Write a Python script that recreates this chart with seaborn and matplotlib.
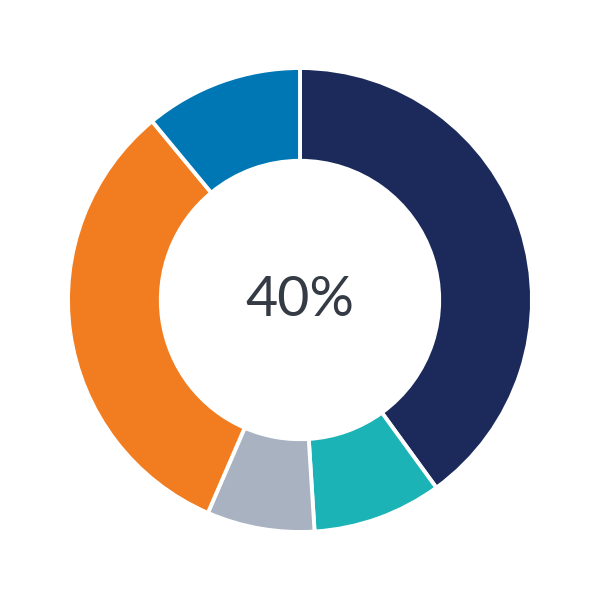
import matplotlib
matplotlib.use('Agg')
import matplotlib.pyplot as plt
import seaborn as sns

# segments clockwise from 12 o'clock
labels = ['Navy', 'Teal', 'Gray', 'Orange', 'Blue']
values = [40, 9, 7.5, 32.5, 11]
colors = ['#1b2a5b', '#1bb3b5', '#a8b2c1', '#f27d20', '#0077b5']
center_text = '40%'

sns.set_style('white')
plt.rcParams['font.family'] = ['Lato', 'DejaVu Sans']

fig = plt.figure(figsize=(6, 6), dpi=100)
ax = fig.add_axes([0, 0, 1, 1])
ax.pie(values, colors=colors, startangle=90, counterclock=False,
       radius=1.0,
       wedgeprops=dict(width=0.4, edgecolor='white', linewidth=2.8))
ax.text(0, 0, center_text, ha='center', va='center', fontsize=40,
        fontweight='normal', color='#353b45')
lim = 300 / 232
ax.set_xlim(-lim, lim)
ax.set_ylim(-lim, lim)
ax.set_aspect('equal')
ax.axis('off')
fig.savefig('out.png', dpi=100, facecolor='white')
